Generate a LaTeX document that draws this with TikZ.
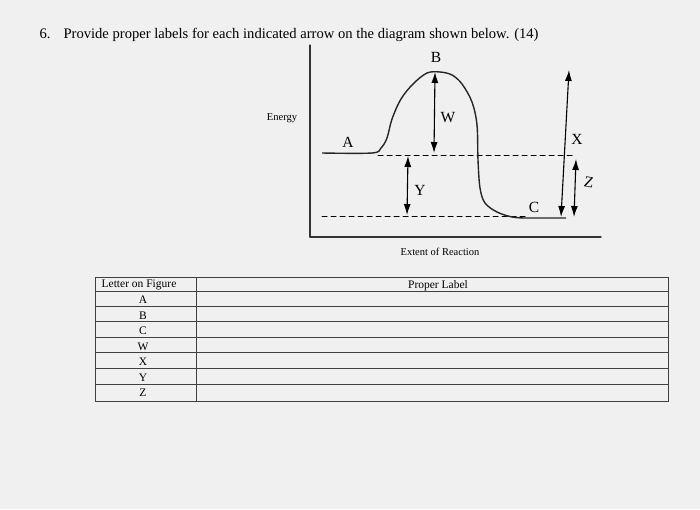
\documentclass[tikz,border=0pt]{standalone}
\usepackage{fontspec}
\setmainfont{Liberation Serif}
\usepackage{tkz-euclide}
\usetikzlibrary{arrows}
\usetikzlibrary{arrows.meta}
\usetikzlibrary{calc}
\usetikzlibrary{positioning}

\begin{document}
\begin{tikzpicture}[x=1pt,y=-1pt]
% page
\fill[gray!12] (0,0) rectangle (700,509);
\useasboundingbox (0,0) rectangle (700,509);
\node[anchor=base west,font=\fontsize{14.6}{16}\selectfont] (qnum) at (36,38) {6.};
\node[anchor=base west,font=\fontsize{14.6}{16}\selectfont] (qtext) at (60,38)
  {Provide proper labels for each indicated arrow on the diagram shown below. (14)};
%==========================================
% axes
\tkzDefPoint[](310,45){ytop};
\tkzDefPoint[](310,237){orig};
\tkzDefPoint[](601,237){xend};
\tkzDrawSegments[line width=1.3pt,color=black!80](ytop,orig orig,xend);
\node[font=\fontsize{10.5}{12}\selectfont] (energy) at (282,118) {Energy};
\node[font=\fontsize{10.5}{12}\selectfont] (extent) at (440,252) {Extent of Reaction};
% energy levels
\tkzDefPoint[](378,155){ha};
\tkzDefPoint[](572,155){hb};
\tkzDefPoint[](322,216){la};
\tkzDefPoint[](528,216){lb};
\tkzDrawSegments[dash pattern=on 5pt off 4pt,line width=1pt](ha,hb la,lb);
% reaction curve
\draw[line width=1.4pt,color=black!85,line join=round] plot[smooth,tension=0.55] coordinates {
  (322,153) (372,153) (381,148) (387,138) (392,119) (401,99) (413,84) (427,73)
  (440,72) (452,75) (462,84) (472,102) (477,125) (478,160) (480,188)
  (485,203) (497,212) (512,217) (525,218)} -- (566,218);
% labels
\node[font=\fontsize{15.5}{17}\selectfont] (labB) at (436,57) {B};
\node[font=\fontsize{15.5}{17}\selectfont] (labA) at (348,142) {A};
\node[font=\fontsize{15.5}{17}\selectfont] (labC) at (534,207) {C};
% arrows
\tikzset{pil/.style={
           {Latex[length=11pt,width=7pt]}-{Latex[length=11pt,width=7pt]},
           line width=1.1pt,
           }
           }
\tkzDefPoint[](435,72){wtop};
\tkzDefPoint[](434,153){wbot};
\tkzDefPoint[](408,156){ytopp};
\tkzDefPoint[](407,215){ybot};
\tkzDefPoint[](569,70){xtop};
\tkzDefPoint[](561,217){xbot};
\tkzDefPoint[](576,159){ztop};
\tkzDefPoint[](574,217){zbot};
\draw[pil] (wtop) -- (wbot);
\draw[pil] (ytopp) -- (ybot);
\draw[pil] (xtop) -- (xbot);
\draw[pil] (ztop) -- (zbot);
\node[font=\fontsize{15.5}{17}\selectfont] (labW) at (448,118) {W};
\node[font=\fontsize{15.5}{17}\selectfont] (labY) at (420,190) {Y};
\node[font=\fontsize{15.5}{17}\selectfont] (labX) at (577,139) {X};
\node[font=\fontsize{15.5}{17}\selectfont,rotate=-10] (labZ) at (589,182) {Z};
%==========================================
% table
\draw[line width=0.9pt,color=black!75] (95,277) rectangle (668,401);
\draw[line width=0.9pt,color=black!75] (196,277) -- (196,401);
\foreach \yy in {291,306,321,337,352,368,384}
  \draw[line width=0.9pt,color=black!75] (95,\yy) -- (668,\yy);
\node[font=\fontsize{11.5}{13}\selectfont] (hdl) at (139,285) {Letter on Figure};
\node[font=\fontsize{11.5}{13}\selectfont] (hdr) at (438,286) {Proper Label};
\foreach \ltr [count=\i] in {A,B,C,W,X,Y,Z}
  \node[font=\fontsize{11.5}{13}\selectfont] (row\i) at (143,284.5+15.5*\i) {\ltr};
\end{tikzpicture}
\end{document}
